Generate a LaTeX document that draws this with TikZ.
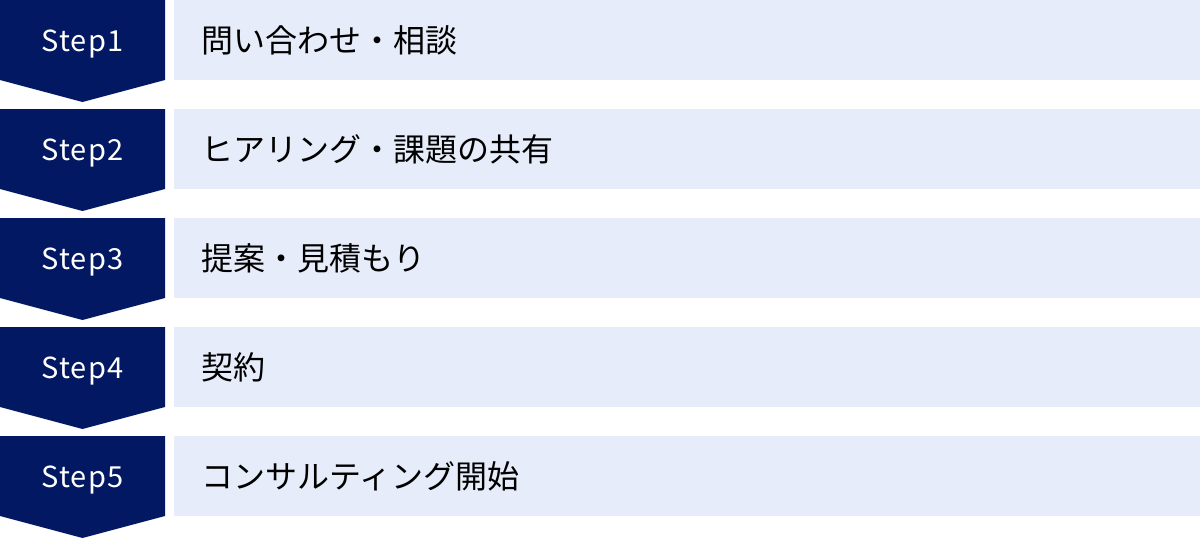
\documentclass[tikz,border=0pt]{standalone}
\usepackage{fontspec}
\setmainfont{Noto Sans CJK JP}
\newfontfamily\stepfont[LetterSpace=4]{Noto Sans CJK JP}
\definecolor{navy}{HTML}{031862}
\definecolor{paleblue}{HTML}{E6ECF9}

\begin{document}
\begin{tikzpicture}[x=1pt, y=-1pt]
      \useasboundingbox (0, 0) rectangle (1200, 538);
      \begin{scope}[
        every node/.style={
        inner sep=0pt,
        font=\fontsize{32}{38}\selectfont,
        }
      ]
        % chevrons
        \fill[navy] (0, 0) -- (165, 0) -- (165, 80) -- (82.5, 102) -- (0, 80) -- cycle;
        \fill[navy] (0, 109) -- (165, 109) -- (165, 189) -- (82.5, 211) -- (0, 189) -- cycle;
        \fill[navy] (0, 218) -- (165, 218) -- (165, 298) -- (82.5, 320) -- (0, 298) -- cycle;
        \fill[navy] (0, 327) -- (165, 327) -- (165, 407) -- (82.5, 429) -- (0, 407) -- cycle;
        \fill[navy] (0, 436) -- (165, 436) -- (165, 516) -- (82.5, 538) -- (0, 516) -- cycle;

        % bars
        \fill[paleblue] (174, 0) rectangle (1200, 80);
        \fill[paleblue] (174, 109) rectangle (1200, 189);
        \fill[paleblue] (174, 218) rectangle (1200, 298);
        \fill[paleblue] (174, 327) rectangle (1200, 407);
        \fill[paleblue] (174, 436) rectangle (1200, 516);

        \begin{scope}[every node/.append style={text=white, font=\stepfont\fontsize{29}{34}\selectfont}]
          \node (s1) at (82.5, 44) {Step1};
          \node (s2) at (82.5, 153) {Step2};
          \node (s3) at (82.5, 262) {Step3};
          \node (s4) at (82.5, 371) {Step4};
          \node (s5) at (82.5, 480) {Step5};
        \end{scope}

        \node[anchor=west] (t1) at (201, 40) {問い合わせ・相談};
        \node[anchor=west] (t2) at (201, 149) {ヒアリング・課題の共有};
        \node[anchor=west] (t3) at (201, 258) {提案・見積もり};
        \node[anchor=west] (t4) at (201, 367) {契約};
        \node[anchor=west] (t5) at (201, 476) {コンサルティング開始};
      \end{scope}
    \end{tikzpicture}
\end{document}
